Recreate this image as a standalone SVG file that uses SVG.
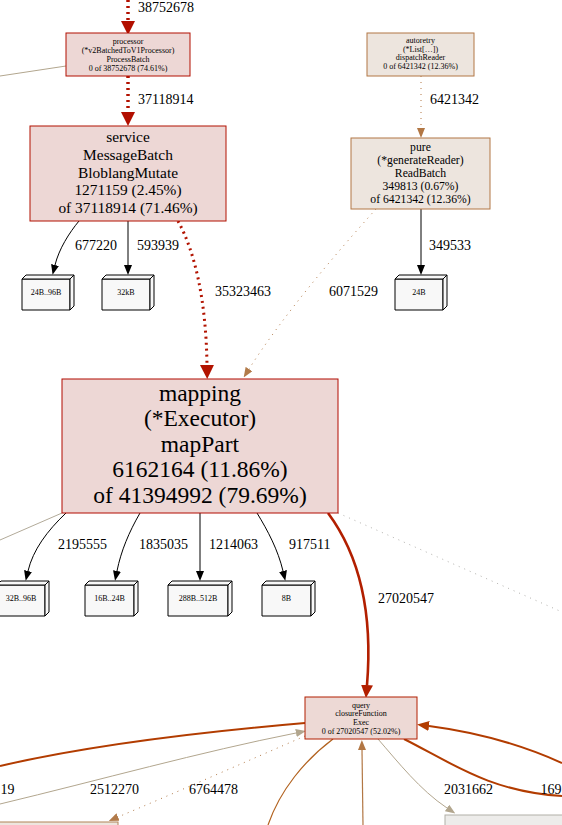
<svg xmlns="http://www.w3.org/2000/svg" width="562" height="825" viewBox="0 0 562 825">
<style>
text{font-family:"Liberation Serif","Times New Roman",serif;fill:#000}
.n text{text-anchor:middle}
.lbl{font-size:14px}
.box path{fill:#f8f8f8;stroke:#000;stroke-width:1}
.box text{font-size:8px}
.e{fill:none}
.dot{stroke-dasharray:1,5}
.dotb{stroke-dasharray:2,4}
</style>
<defs>
<marker id="aBig" markerUnits="userSpaceOnUse" markerWidth="14" markerHeight="14" viewBox="0 0 14 14" refX="0" refY="7" orient="auto"><path d="M0,0 L14,7 L0,14 z" fill="#b20f00"/></marker>
<marker id="aBig2" markerUnits="userSpaceOnUse" markerWidth="14" markerHeight="14" viewBox="0 0 14 14" refX="0" refY="7" orient="auto"><path d="M0,0 L14,7 L0,14 z" fill="#b21300"/></marker>
<marker id="aMid" markerUnits="userSpaceOnUse" markerWidth="13" markerHeight="12" viewBox="0 0 13 12" refX="0" refY="6" orient="auto"><path d="M0,0 L13,6 L0,12 z" fill="#b21f00"/></marker>
<marker id="aBlk" markerUnits="userSpaceOnUse" markerWidth="10" markerHeight="8" viewBox="0 0 10 8" refX="0" refY="4" orient="auto"><path d="M0,0 L10,4 L0,8 z" fill="#000"/></marker>
<marker id="aTan" markerUnits="userSpaceOnUse" markerWidth="10" markerHeight="8" viewBox="0 0 10 8" refX="0" refY="4" orient="auto"><path d="M0,0 L10,4 L0,8 z" fill="#b27744"/></marker>
<marker id="aTan2" markerUnits="userSpaceOnUse" markerWidth="10" markerHeight="8" viewBox="0 0 10 8" refX="0" refY="4" orient="auto"><path d="M0,0 L10,4 L0,8 z" fill="#b27b4a"/></marker>
<marker id="aGry" markerUnits="userSpaceOnUse" markerWidth="10" markerHeight="8" viewBox="0 0 10 8" refX="0" refY="4" orient="auto"><path d="M0,0 L10,4 L0,8 z" fill="#b2a68e"/></marker>
<marker id="aOr" markerUnits="userSpaceOnUse" markerWidth="12" markerHeight="10" viewBox="0 0 12 10" refX="0" refY="5" orient="auto"><path d="M0,0 L12,5 L0,10 z" fill="#b23c00"/></marker>
</defs>

<g id="edges">
  <path class="e dotb" d="M128,0 L128,21" stroke="#b20f00" stroke-width="3.5" marker-end="url(#aBig)"/>
  <text class="lbl" x="138" y="12">38752678</text>
  <path class="e" d="M0,76 L66,66" stroke="#b2a68e" stroke-width="1"/>
  <path class="e dotb" d="M128,76 L128,112" stroke="#b21100" stroke-width="3.5" marker-end="url(#aBig)"/>
  <text class="lbl" x="138" y="104">37118914</text>
  <path class="e dot" d="M421,76 L421,128" stroke="#b27744" stroke-width="1" marker-end="url(#aTan)"/>
  <text class="lbl" x="430" y="104">6421342</text>
  <path class="e" d="M79,221 C69,233 59,249 55,265" stroke="#000" stroke-width="1" marker-end="url(#aBlk)"/>
  <text class="lbl" x="75" y="250">677220</text>
  <path class="e" d="M128,221 L128,265" stroke="#000" stroke-width="1" marker-end="url(#aBlk)"/>
  <text class="lbl" x="137" y="250">593939</text>
  <path class="e dotb" d="M178,221 C195,252 206,300 207,365" stroke="#b21300" stroke-width="3" marker-end="url(#aBig2)"/>
  <text class="lbl" x="215" y="296">35323463</text>
  <path class="e dot" d="M376,209 C330,260 280,320 249,369" stroke="#b27b4a" stroke-width="1" marker-end="url(#aTan2)"/>
  <text class="lbl" x="329" y="296">6071529</text>
  <path class="e" d="M421,209 L421,265" stroke="#000" stroke-width="1" marker-end="url(#aBlk)"/>
  <text class="lbl" x="429" y="250">349533</text>
  <path class="e" d="M62,513 L0,540" stroke="#b2aa99" stroke-width="1"/>
  <path class="e dot" d="M338,513 L562,612" stroke="#b2b1ad" stroke-width="1"/>
  <path class="e" d="M66,513 C47,531 33,550 28,571" stroke="#000" stroke-width="1" marker-end="url(#aBlk)"/>
  <text class="lbl" x="58" y="549">2195555</text>
  <path class="e" d="M140,513 C129,532 121,551 117,571" stroke="#000" stroke-width="1" marker-end="url(#aBlk)"/>
  <text class="lbl" x="139" y="549">1835035</text>
  <path class="e" d="M200,513 L200,571" stroke="#000" stroke-width="1" marker-end="url(#aBlk)"/>
  <text class="lbl" x="209" y="549">1214063</text>
  <path class="e" d="M257,513 C268,531 278,550 283,571" stroke="#000" stroke-width="1" marker-end="url(#aBlk)"/>
  <text class="lbl" x="289" y="549">917511</text>
  <path class="e" d="M328,513 C360,556 373,612 367,685" stroke="#b21f00" stroke-width="2.6" marker-end="url(#aMid)"/>
  <text class="lbl" x="378" y="603">27020547</text>
  <path class="e" d="M305,723 C200,732 90,745 0,766" stroke="#b23c00" stroke-width="2"/>
  <text class="lbl" x="0.5" y="794">19</text>
  <path class="e" d="M0,804 C100,780 200,752 296,733" stroke="#b2a68e" stroke-width="1" marker-end="url(#aGry)"/>
  <text class="lbl" x="90" y="794">2512270</text>
  <path class="e dot" d="M305,736 C250,760 170,795 118,817" stroke="#b27b4a" stroke-width="1" marker-end="url(#aTan2)"/>
  <text class="lbl" x="189" y="794">6764478</text>
  <path class="e" d="M333,739 C305,760 280,790 268,825" stroke="#b2621f" stroke-width="1.2"/>
  <path class="e" d="M363,825 L362,750" stroke="#b27744" stroke-width="1.2" marker-end="url(#aTan)"/>
  <path class="e" d="M378,739 C398,762 420,790 447,808" stroke="#b2a68e" stroke-width="1" marker-end="url(#aGry)"/>
  <text class="lbl" x="444" y="794">2031662</text>
  <path class="e" d="M404,739 C450,762 490,792 562,796" stroke="#b23c00" stroke-width="2"/>
  <text class="lbl" x="540.5" y="794">169</text>
  <path class="e" d="M562,763 C520,744 475,732 429,726" stroke="#b23c00" stroke-width="2" marker-end="url(#aOr)"/>
</g>

<g id="processor" class="n">
  <rect x="66" y="33" width="124" height="43" fill="#edd7d5" stroke="#b20f00"/>
  <text font-size="8" x="128" y="44">processor</text>
  <text font-size="8" x="128" y="52.5">(*v2BatchedToV1Processor)</text>
  <text font-size="8" x="128" y="61.5">ProcessBatch</text>
  <text font-size="8" x="128" y="70.5">0 of 38752678 (74.61%)</text>
</g>
<g id="autoretry" class="n">
  <rect x="367" y="33" width="107" height="43" fill="#ede5de" stroke="#b27744"/>
  <text font-size="8" x="420.5" y="43">autoretry</text>
  <text font-size="8" x="420.5" y="51.5">(*List[…])</text>
  <text font-size="8" x="420.5" y="60">dispatchReader</text>
  <text font-size="8" x="420.5" y="69">0 of 6421342 (12.36%)</text>
</g>
<g id="service" class="n">
  <rect x="30" y="126" width="196" height="95" fill="#edd7d5" stroke="#b21100"/>
  <text font-size="15.4" x="128" y="142">service</text>
  <text font-size="15.4" x="128" y="160">MessageBatch</text>
  <text font-size="15.4" x="128" y="177.5">BloblangMutate</text>
  <text font-size="15.4" x="128" y="195">1271159 (2.45%)</text>
  <text font-size="15.4" x="128" y="212.5">of 37118914 (71.46%)</text>
</g>
<g id="pure" class="n">
  <rect x="351" y="138" width="139" height="71" fill="#ede5de" stroke="#b27744"/>
  <text font-size="11.7" x="420.5" y="151">pure</text>
  <text font-size="11.7" x="420.5" y="164">(*generateReader)</text>
  <text font-size="11.7" x="420.5" y="177">ReadBatch</text>
  <text font-size="11.7" x="420.5" y="189.5">349813 (0.67%)</text>
  <text font-size="11.7" x="420.5" y="202.5">of 6421342 (12.36%)</text>
</g>
<g id="mapping" class="n">
  <rect x="62" y="379" width="276" height="134" fill="#edd7d5" stroke="#b20b00"/>
  <text font-size="23.5" x="200" y="401">mapping</text>
  <text font-size="23.5" x="200" y="426">(*Executor)</text>
  <text font-size="23.5" x="200" y="452">mapPart</text>
  <text font-size="23.5" x="200" y="477">6162164 (11.86%)</text>
  <text font-size="23.5" x="200" y="503">of 41394992 (79.69%)</text>
</g>
<g id="query" class="n">
  <rect x="305" y="697" width="112" height="42" fill="#edd9d5" stroke="#b21f00"/>
  <text font-size="8" x="361" y="707.5">query</text>
  <text font-size="8" x="361" y="716">closureFunction</text>
  <text font-size="8" x="361" y="724.5">Exec</text>
  <text font-size="8" x="361" y="733.5">0 of 27020547 (52.02%)</text>
</g>

<g id="b-24B-96B" class="n box">
  <path d="M22,279 h48 v31 h-48 z"/><path d="M22,279 l4,-4 h48 l-4,4 z"/><path d="M70,279 l4,-4 v31 l-4,4 z"/>
  <text x="46" y="295">24B..96B</text>
</g>
<g id="b-32kB" class="n box">
  <path d="M102,279 h48 v31 h-48 z"/><path d="M102,279 l4,-4 h48 l-4,4 z"/><path d="M150,279 l4,-4 v31 l-4,4 z"/>
  <text x="126" y="295">32kB</text>
</g>
<g id="b-24B" class="n box">
  <path d="M395,279 h48 v31 h-48 z"/><path d="M395,279 l4,-4 h48 l-4,4 z"/><path d="M443,279 l4,-4 v31 l-4,4 z"/>
  <text x="419" y="295">24B</text>
</g>
<g id="b-32B-96B" class="n box">
  <path d="M-3,585 h48 v31 h-48 z"/><path d="M-3,585 l4,-4 h48 l-4,4 z"/><path d="M45,585 l4,-4 v31 l-4,4 z"/>
  <text x="21" y="601">32B..96B</text>
</g>
<g id="b-16B-24B" class="n box">
  <path d="M85,585 h49 v31 h-49 z"/><path d="M85,585 l4,-4 h49 l-4,4 z"/><path d="M134,585 l4,-4 v31 l-4,4 z"/>
  <text x="109.5" y="601">16B..24B</text>
</g>
<g id="b-288B-512B" class="n box">
  <path d="M168,585 h60 v31 h-60 z"/><path d="M168,585 l4,-4 h60 l-4,4 z"/><path d="M228,585 l4,-4 v31 l-4,4 z"/>
  <text x="198" y="601">288B..512B</text>
</g>
<g id="b-8B" class="n box">
  <path d="M262,585 h49 v31 h-49 z"/><path d="M262,585 l4,-4 h49 l-4,4 z"/><path d="M311,585 l4,-4 v31 l-4,4 z"/>
  <text x="286.5" y="601">8B</text>
</g>

<g id="bottom-left" class="n">
  <rect x="-10" y="822" width="128" height="20" fill="#ede6df" stroke="#b28459"/>
</g>
<g id="bottom-right" class="n">
  <rect x="445" y="815" width="130" height="20" fill="#edecea" stroke="#b2afa7"/>
</g>
</svg>
